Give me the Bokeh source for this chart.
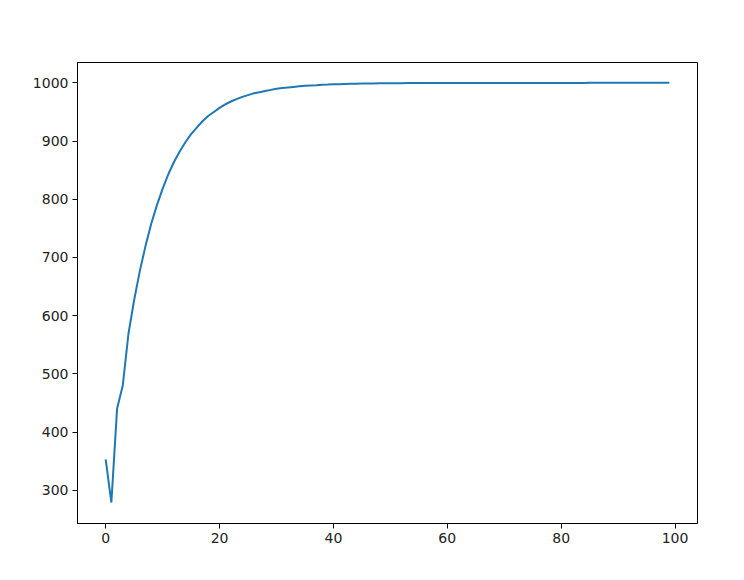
from bokeh.plotting import figure
from bokeh.models import Range1d, FixedTicker
from bokeh.embed import file_html
from bokeh.resources import INLINE

# iteration index and value
x = list(range(100))
y = [353, 279, 440, 480, 569, 627, 677, 720, 758, 790,
     818, 843, 864, 882, 898, 912, 923, 934, 943, 950,
     957, 963, 968, 972, 976, 979, 982, 984, 986, 988,
     990, 991, 992, 993, 994, 995, 995.5, 996, 996.6, 997,
     997.5, 997.8, 998.1, 998.4, 998.6, 998.8, 999.0, 999.1, 999.2, 999.3,
     999.4, 999.5, 999.55, 999.6, 999.65, 999.7, 999.74, 999.78, 999.8, 999.83,
     999.85, 999.87, 999.89, 999.9, 999.91, 999.92, 999.93, 999.94, 999.95, 999.95,
     999.96, 999.96, 999.97, 999.97, 999.98, 999.98, 999.98, 999.98, 999.99, 999.99,
     999.99, 999.99, 999.99, 999.99, 999.99, 1000, 1000, 1000, 1000, 1000,
     1000, 1000, 1000, 1000, 1000, 1000, 1000, 1000, 1000, 1000]

x_ticks = [0, 20, 40, 60, 80, 100]
y_ticks = [300, 400, 500, 600, 700, 800, 900, 1000]

p = figure(frame_width=620, frame_height=461,
           x_range=Range1d(-4.95, 103.95), y_range=Range1d(243, 1035),
           output_backend="svg", toolbar_location=None,
           min_border_left=77, min_border_top=62,
           min_border_right=20, min_border_bottom=45)

p.line(x, y, line_color="#1f77b4", line_width=2)

p.grid.visible = False
p.outline_line_color = "black"
p.outline_line_alpha = 1
p.outline_line_width = 1
p.background_fill_color = "white"
p.border_fill_color = "white"

p.xaxis.ticker = FixedTicker(ticks=x_ticks)
p.yaxis.ticker = FixedTicker(ticks=y_ticks)

for ax in (p.xaxis, p.yaxis):
    ax.axis_line_color = "black"
    ax.major_tick_line_color = "black"
    ax.major_tick_out = 5
    ax.major_tick_in = 0
    ax.minor_tick_line_color = None
    ax.major_label_text_font = "DejaVu Sans"
    ax.major_label_text_font_size = "14px"
    ax.major_label_text_color = "#222222"
    ax.major_label_standoff = 4

open("out.html", "w").write(file_html(p, INLINE))
